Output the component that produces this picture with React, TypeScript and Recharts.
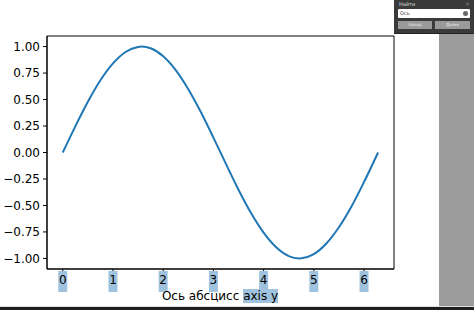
import React from "react";
import { LineChart, Line, XAxis, YAxis, ReferenceArea } from "recharts";

// values
const xValues = [0, 0.25, 0.5, 0.75, 1.0, 1.25, 1.5, 1.57, 1.75, 2.0, 2.25, 2.5, 2.75, 3.0, 3.25, 3.5, 3.75, 4.0, 4.25, 4.5, 4.71, 4.75, 5.0, 5.25, 5.5, 5.75, 6.0, 6.28];
const yValues = [0, 0.247, 0.479, 0.682, 0.841, 0.949, 0.997, 1.0, 0.984, 0.909, 0.778, 0.598, 0.382, 0.141, -0.108, -0.351, -0.572, -0.757, -0.895, -0.978, -1.0, -0.999, -0.959, -0.859, -0.706, -0.51, -0.279, 0];
const xTicks = [0, 1, 2, 3, 4, 5, 6];
const yTicks = [-1, -0.75, -0.5, -0.25, 0, 0.25, 0.5, 0.75, 1];
const xLabel = "Ось абсцисс";
const xLabelHit = "axis y";

const data = xValues.map((x, i) => ({ x, y: yValues[i] }));

const FONT = "'DejaVu Sans', sans-serif";

const fmtY = (v: number) => {
  const s = Math.abs(v).toFixed(2);
  return v < 0 ? "\u2212" + s : s;
};

function HighlightTick(props: any) {
  const { x, y, payload } = props;
  return (
    <g>
      <rect x={x - 4.5} y={y - 4} width={9} height={21} fill="#9fc3de" />
      <text x={x} y={y} dy="0.71em" textAnchor="middle" fontSize={12} fill="#000" fontFamily={FONT}>
        {payload.value}
      </text>
    </g>
  );
}

function FindDialog() {
  return (
    <div
      style={{
        position: "absolute",
        left: 394,
        top: 0,
        width: 80,
        height: 33,
        background: "#3a3a3a",
        borderBottom: "1px solid #222",
        fontFamily: FONT,
        color: "#ddd",
      }}
    >
      <div style={{ position: "absolute", left: 5, top: 1, fontSize: 5 }}>Найти</div>
      <div style={{ position: "absolute", right: 4, top: 0, fontSize: 6, color: "#888" }}>×</div>
      <div
        style={{
          position: "absolute",
          left: 4,
          top: 9,
          width: 72,
          height: 9,
          background: "#fff",
          borderRadius: 1,
          color: "#333",
          fontSize: 5,
          lineHeight: "9px",
          paddingLeft: 2,
          boxSizing: "border-box",
        }}
      >
        Ось
        <span
          style={{
            position: "absolute",
            right: 2,
            top: 2,
            width: 5,
            height: 5,
            borderRadius: 3,
            background: "#666",
          }}
        />
      </div>
      <div
        style={{
          position: "absolute",
          left: 4,
          top: 21,
          width: 34,
          height: 8,
          background: "#9a9a9a",
          fontSize: 4,
          lineHeight: "8px",
          textAlign: "center",
          color: "#eee",
        }}
      >
        Назад
      </div>
      <div
        style={{
          position: "absolute",
          left: 41,
          top: 21,
          width: 35,
          height: 8,
          background: "#9a9a9a",
          fontSize: 4,
          lineHeight: "8px",
          textAlign: "center",
          color: "#eee",
        }}
      >
        Далее
      </div>
    </div>
  );
}

export default function App() {
  return (
    <div
      style={{
        position: "absolute",
        left: 0,
        top: 0,
        width: 474,
        height: 310,
        background: "#fff",
        overflow: "hidden",
      }}
    >
      <LineChart
        width={474}
        height={310}
        data={data}
        margin={{ top: 36, right: 80, left: 0, bottom: 11 }}
      >
        <XAxis
          dataKey="x"
          type="number"
          domain={[-0.314, 6.597]}
          ticks={xTicks}
          allowDataOverflow
          height={30}
          tickSize={4}
          tickMargin={2}
          stroke="#000"
          tick={<HighlightTick />}
        />
        <YAxis
          dataKey="y"
          type="number"
          domain={[-1.1, 1.1]}
          ticks={yTicks}
          width={47}
          tickSize={4}
          tickMargin={3}
          stroke="#000"
          tickFormatter={fmtY}
          tick={{ fontSize: 12, fill: "#000", fontFamily: FONT }}
        />
        <ReferenceArea
          x1={-0.314}
          x2={6.597}
          y1={-1.1}
          y2={1.1}
          fill="none"
          stroke="#000"
          strokeWidth={1}
          ifOverflow="visible"
        />
        <Line
          type="monotone"
          dataKey="y"
          stroke="#1f77b4"
          strokeWidth={2}
          dot={false}
          isAnimationActive={false}
        />
      </LineChart>

      <div
        style={{
          position: "absolute",
          left: 0,
          width: 440,
          top: 288,
          textAlign: "center",
          fontFamily: FONT,
          fontSize: 12,
          lineHeight: "17px",
          color: "#000",
        }}
      >
        {xLabel} <span style={{ background: "#9fc3de" }}>{xLabelHit}</span>
      </div>

      <div style={{ position: "absolute", left: 439, top: 33, width: 35, height: 274, background: "#9b9b9b" }} />
      <div style={{ position: "absolute", left: 0, top: 306, width: 474, height: 1, background: "#ddd" }} />
      <div style={{ position: "absolute", left: 0, top: 307, width: 474, height: 3, background: "#1e1e1e" }} />
      <FindDialog />
    </div>
  );
}
